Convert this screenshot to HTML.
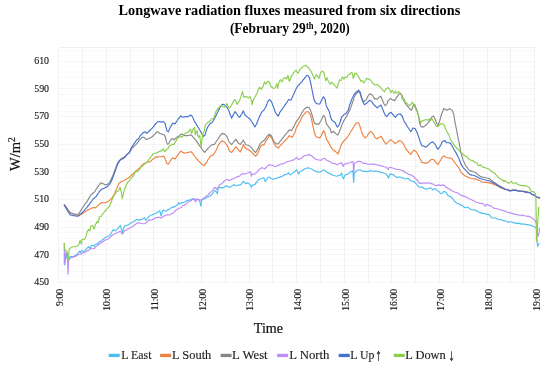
<!DOCTYPE html>
<html><head><meta charset="utf-8"><title>Longwave radiation fluxes</title><style>html,body{margin:0;padding:0;background:#fff;}svg{display:block;}</style></head><body><svg width="550" height="369" viewBox="0 0 550 369">
<rect width="550" height="369" fill="#ffffff"/>
<defs><filter id="soft" x="-5%" y="-5%" width="110%" height="110%"><feGaussianBlur stdDeviation="0.3"/></filter></defs>
<g shape-rendering="crispEdges"><line x1="58.70" y1="282.50" x2="534.70" y2="282.50" stroke="#f3f3f3" stroke-width="0.8"/><line x1="58.70" y1="276.97" x2="534.70" y2="276.97" stroke="#f7f7f7" stroke-width="0.8"/><line x1="58.70" y1="271.44" x2="534.70" y2="271.44" stroke="#f7f7f7" stroke-width="0.8"/><line x1="58.70" y1="265.91" x2="534.70" y2="265.91" stroke="#f7f7f7" stroke-width="0.8"/><line x1="58.70" y1="260.38" x2="534.70" y2="260.38" stroke="#f7f7f7" stroke-width="0.8"/><line x1="58.70" y1="254.85" x2="534.70" y2="254.85" stroke="#f3f3f3" stroke-width="0.8"/><line x1="58.70" y1="249.32" x2="534.70" y2="249.32" stroke="#f7f7f7" stroke-width="0.8"/><line x1="58.70" y1="243.79" x2="534.70" y2="243.79" stroke="#f7f7f7" stroke-width="0.8"/><line x1="58.70" y1="238.26" x2="534.70" y2="238.26" stroke="#f7f7f7" stroke-width="0.8"/><line x1="58.70" y1="232.74" x2="534.70" y2="232.74" stroke="#f7f7f7" stroke-width="0.8"/><line x1="58.70" y1="227.21" x2="534.70" y2="227.21" stroke="#f3f3f3" stroke-width="0.8"/><line x1="58.70" y1="221.68" x2="534.70" y2="221.68" stroke="#f7f7f7" stroke-width="0.8"/><line x1="58.70" y1="216.15" x2="534.70" y2="216.15" stroke="#f7f7f7" stroke-width="0.8"/><line x1="58.70" y1="210.62" x2="534.70" y2="210.62" stroke="#f7f7f7" stroke-width="0.8"/><line x1="58.70" y1="205.09" x2="534.70" y2="205.09" stroke="#f7f7f7" stroke-width="0.8"/><line x1="58.70" y1="199.56" x2="534.70" y2="199.56" stroke="#f3f3f3" stroke-width="0.8"/><line x1="58.70" y1="194.03" x2="534.70" y2="194.03" stroke="#f7f7f7" stroke-width="0.8"/><line x1="58.70" y1="188.50" x2="534.70" y2="188.50" stroke="#f7f7f7" stroke-width="0.8"/><line x1="58.70" y1="182.97" x2="534.70" y2="182.97" stroke="#f7f7f7" stroke-width="0.8"/><line x1="58.70" y1="177.44" x2="534.70" y2="177.44" stroke="#f7f7f7" stroke-width="0.8"/><line x1="58.70" y1="171.91" x2="534.70" y2="171.91" stroke="#f3f3f3" stroke-width="0.8"/><line x1="58.70" y1="166.38" x2="534.70" y2="166.38" stroke="#f7f7f7" stroke-width="0.8"/><line x1="58.70" y1="160.85" x2="534.70" y2="160.85" stroke="#f7f7f7" stroke-width="0.8"/><line x1="58.70" y1="155.32" x2="534.70" y2="155.32" stroke="#f7f7f7" stroke-width="0.8"/><line x1="58.70" y1="149.79" x2="534.70" y2="149.79" stroke="#f7f7f7" stroke-width="0.8"/><line x1="58.70" y1="144.26" x2="534.70" y2="144.26" stroke="#f3f3f3" stroke-width="0.8"/><line x1="58.70" y1="138.74" x2="534.70" y2="138.74" stroke="#f7f7f7" stroke-width="0.8"/><line x1="58.70" y1="133.21" x2="534.70" y2="133.21" stroke="#f7f7f7" stroke-width="0.8"/><line x1="58.70" y1="127.68" x2="534.70" y2="127.68" stroke="#f7f7f7" stroke-width="0.8"/><line x1="58.70" y1="122.15" x2="534.70" y2="122.15" stroke="#f7f7f7" stroke-width="0.8"/><line x1="58.70" y1="116.62" x2="534.70" y2="116.62" stroke="#f3f3f3" stroke-width="0.8"/><line x1="58.70" y1="111.09" x2="534.70" y2="111.09" stroke="#f7f7f7" stroke-width="0.8"/><line x1="58.70" y1="105.56" x2="534.70" y2="105.56" stroke="#f7f7f7" stroke-width="0.8"/><line x1="58.70" y1="100.03" x2="534.70" y2="100.03" stroke="#f7f7f7" stroke-width="0.8"/><line x1="58.70" y1="94.50" x2="534.70" y2="94.50" stroke="#f7f7f7" stroke-width="0.8"/><line x1="58.70" y1="88.97" x2="534.70" y2="88.97" stroke="#f3f3f3" stroke-width="0.8"/><line x1="58.70" y1="83.44" x2="534.70" y2="83.44" stroke="#f7f7f7" stroke-width="0.8"/><line x1="58.70" y1="77.91" x2="534.70" y2="77.91" stroke="#f7f7f7" stroke-width="0.8"/><line x1="58.70" y1="72.38" x2="534.70" y2="72.38" stroke="#f7f7f7" stroke-width="0.8"/><line x1="58.70" y1="66.85" x2="534.70" y2="66.85" stroke="#f7f7f7" stroke-width="0.8"/><line x1="58.70" y1="61.32" x2="534.70" y2="61.32" stroke="#f3f3f3" stroke-width="0.8"/><line x1="58.70" y1="55.79" x2="534.70" y2="55.79" stroke="#f7f7f7" stroke-width="0.8"/><line x1="58.70" y1="50.26" x2="534.70" y2="50.26" stroke="#f7f7f7" stroke-width="0.8"/><line x1="58.70" y1="47.50" x2="534.70" y2="47.50" stroke="#ececec" stroke-width="0.8"/><line x1="58.70" y1="47.50" x2="58.70" y2="282.50" stroke="#efefef" stroke-width="0.8"/><line x1="82.50" y1="47.50" x2="82.50" y2="282.50" stroke="#efefef" stroke-width="0.8"/><line x1="106.30" y1="47.50" x2="106.30" y2="282.50" stroke="#efefef" stroke-width="0.8"/><line x1="130.10" y1="47.50" x2="130.10" y2="282.50" stroke="#efefef" stroke-width="0.8"/><line x1="153.90" y1="47.50" x2="153.90" y2="282.50" stroke="#efefef" stroke-width="0.8"/><line x1="177.70" y1="47.50" x2="177.70" y2="282.50" stroke="#efefef" stroke-width="0.8"/><line x1="201.50" y1="47.50" x2="201.50" y2="282.50" stroke="#efefef" stroke-width="0.8"/><line x1="225.30" y1="47.50" x2="225.30" y2="282.50" stroke="#efefef" stroke-width="0.8"/><line x1="249.10" y1="47.50" x2="249.10" y2="282.50" stroke="#efefef" stroke-width="0.8"/><line x1="272.90" y1="47.50" x2="272.90" y2="282.50" stroke="#efefef" stroke-width="0.8"/><line x1="296.70" y1="47.50" x2="296.70" y2="282.50" stroke="#efefef" stroke-width="0.8"/><line x1="320.50" y1="47.50" x2="320.50" y2="282.50" stroke="#efefef" stroke-width="0.8"/><line x1="344.30" y1="47.50" x2="344.30" y2="282.50" stroke="#efefef" stroke-width="0.8"/><line x1="368.10" y1="47.50" x2="368.10" y2="282.50" stroke="#efefef" stroke-width="0.8"/><line x1="391.90" y1="47.50" x2="391.90" y2="282.50" stroke="#efefef" stroke-width="0.8"/><line x1="415.70" y1="47.50" x2="415.70" y2="282.50" stroke="#efefef" stroke-width="0.8"/><line x1="439.50" y1="47.50" x2="439.50" y2="282.50" stroke="#efefef" stroke-width="0.8"/><line x1="463.30" y1="47.50" x2="463.30" y2="282.50" stroke="#efefef" stroke-width="0.8"/><line x1="487.10" y1="47.50" x2="487.10" y2="282.50" stroke="#efefef" stroke-width="0.8"/><line x1="510.90" y1="47.50" x2="510.90" y2="282.50" stroke="#efefef" stroke-width="0.8"/><line x1="534.70" y1="47.50" x2="534.70" y2="282.50" stroke="#efefef" stroke-width="0.8"/></g>
<g filter="url(#soft)">
<polyline points="64.80,249.00 64.80,265.00 66.00,253.50 66.30,254.68 66.60,255.87 66.90,257.79 67.20,259.00 68.60,258.20 69.20,257.70 70.30,256.68 71.40,256.60 73.50,256.60 75.20,255.50 76.80,254.50 77.65,253.44 78.50,252.30 79.50,251.20 80.60,252.80 81.15,251.55 81.70,250.60 83.40,251.70 85.50,250.60 86.35,248.76 87.20,247.90 88.80,246.80 89.90,248.50 90.45,247.11 91.00,245.70 92.60,245.20 94.30,246.30 95.10,244.69 95.90,244.10 97.50,244.10 98.35,242.93 99.20,241.90 100.80,241.40 101.90,240.08 103.00,239.70 104.10,238.15 105.20,237.50 106.30,236.92 107.40,236.50 109.50,235.40 110.55,234.31 111.60,232.50 112.45,230.69 113.30,229.70 114.40,229.95 115.50,230.80 116.55,229.84 117.60,228.60 118.53,228.03 119.47,226.55 120.40,225.40 120.77,226.55 121.13,228.46 121.50,229.20 122.00,230.35 122.50,232.50 122.84,231.69 123.18,229.87 123.52,228.51 123.86,227.28 124.20,226.50 125.30,225.74 126.40,225.40 127.75,225.20 129.10,224.30 130.45,223.10 131.80,222.60 133.15,221.89 134.50,221.00 135.50,220.35 136.50,219.40 138.60,219.90 140.80,219.90 141.90,219.21 143.00,218.80 144.60,217.70 145.15,219.15 145.70,220.50 146.55,219.17 147.40,218.80 148.45,216.97 149.50,216.10 150.60,215.23 151.70,215.00 152.80,214.65 153.90,213.90 155.90,213.50 156.95,212.72 158.00,212.10 158.95,211.15 159.90,210.60 160.18,211.97 160.45,213.10 160.72,214.20 161.00,215.70 161.44,214.86 161.88,213.60 162.32,211.94 162.76,211.14 163.20,209.90 164.30,210.63 165.40,211.30 166.50,211.01 167.60,209.90 169.05,209.40 170.50,208.40 171.60,207.42 172.70,206.90 174.15,207.08 175.60,206.20 176.70,205.03 177.80,204.70 178.80,202.60 180.00,204.00 181.10,203.21 182.20,202.60 183.65,202.48 185.10,201.80 186.55,200.72 188.00,200.40 189.50,199.99 191.00,199.60 192.45,198.74 193.90,198.90 196.10,199.60 198.30,199.60 199.70,201.10 200.00,202.56 200.30,203.94 200.60,205.01 200.90,206.20 201.90,199.60 204.10,198.90 205.55,198.56 207.00,197.40 208.50,196.50 210.00,196.00 211.10,195.11 212.20,193.80 212.93,192.94 213.67,191.95 214.40,190.90 215.80,190.90 216.55,192.30 217.30,193.80 217.53,192.71 217.77,191.36 218.00,189.40 218.75,188.27 219.50,187.20 221.70,187.90 223.90,187.20 225.00,186.63 226.10,185.70 227.15,185.97 228.20,187.20 229.55,187.12 230.90,186.60 231.87,186.03 232.83,185.68 233.80,184.40 234.90,185.45 236.00,185.80 237.45,185.21 238.90,185.10 241.10,184.40 241.83,183.27 242.57,182.59 243.30,181.40 244.40,181.97 245.50,183.60 247.70,182.90 248.80,183.61 249.90,184.40 250.60,185.48 251.30,187.30 252.05,185.78 252.80,185.10 255.00,184.40 255.73,182.91 256.47,182.70 257.20,181.40 258.30,179.94 259.40,179.30 261.60,178.50 263.80,177.80 264.27,178.72 264.73,180.08 265.20,181.40 265.95,180.76 266.70,179.30 267.80,177.74 268.90,177.10 270.00,177.74 271.10,178.50 273.30,179.30 275.50,178.50 277.70,177.80 279.80,177.10 282.00,176.30 283.10,175.65 284.20,174.90 286.40,174.10 287.50,173.82 288.60,172.70 289.35,174.15 290.10,174.90 291.20,174.55 292.30,173.40 293.40,172.41 294.50,171.90 295.60,170.71 296.70,169.70 297.25,170.64 297.80,172.32 298.35,173.50 298.90,174.10 299.60,172.27 300.30,171.20 302.50,170.50 303.63,169.48 304.77,168.87 305.90,168.50 308.00,167.80 310.20,168.50 311.70,168.96 313.20,170.00 314.65,170.68 316.10,171.40 317.55,171.90 319.00,172.20 321.20,171.40 322.30,170.44 323.40,170.00 324.50,170.15 325.60,171.40 326.70,172.06 327.80,172.90 330.00,173.60 331.10,174.21 332.20,175.10 333.65,175.52 335.10,175.80 336.55,176.30 338.00,175.80 340.20,175.10 340.95,174.21 341.70,172.90 342.03,174.38 342.37,175.96 342.70,177.30 343.40,178.80 344.00,177.49 344.60,175.80 345.70,174.61 346.80,174.40 347.90,174.09 349.00,172.90 350.10,172.46 351.20,171.40 352.90,170.70 353.60,182.40 354.40,172.90 355.35,172.21 356.30,170.70 358.50,170.00 360.70,170.00 361.80,171.03 362.90,171.40 364.35,171.28 365.80,171.40 367.25,171.29 368.70,171.40 370.20,170.61 371.70,170.70 373.15,171.20 374.60,171.40 376.25,171.07 377.90,171.70 379.40,171.57 380.90,172.40 382.35,172.48 383.80,173.20 385.25,173.53 386.70,174.60 387.30,175.66 387.90,176.57 388.50,178.30 389.13,176.28 389.77,174.98 390.40,173.90 392.60,174.60 393.65,174.91 394.70,176.10 395.80,176.70 396.90,177.60 399.10,176.80 401.30,177.60 403.50,178.30 405.70,179.00 407.90,178.30 409.00,178.88 410.10,180.50 412.30,181.20 414.50,181.90 415.60,183.41 416.70,184.10 417.40,185.33 418.10,186.30 419.60,187.10 421.80,187.10 422.90,187.41 424.00,188.50 426.20,189.30 428.40,188.50 430.60,187.80 431.70,188.63 432.80,190.00 433.90,189.08 435.00,188.50 436.10,189.45 437.20,190.70 438.30,191.04 439.40,192.20 440.45,193.28 441.50,193.60 442.60,193.04 443.70,191.40 445.90,192.20 446.63,193.36 447.37,194.58 448.10,195.80 450.20,196.60 451.20,196.99 452.20,198.30 452.93,198.83 453.67,200.06 454.40,201.20 455.37,201.67 456.33,203.03 457.30,203.40 458.75,203.78 460.20,204.90 461.70,205.08 463.20,206.30 464.65,207.55 466.10,207.80 467.60,207.10 468.57,207.86 469.53,208.18 470.50,209.30 471.95,209.70 473.40,210.00 474.85,209.83 476.30,210.70 477.80,211.48 479.30,212.20 480.75,213.08 482.20,212.90 483.65,213.65 485.10,213.60 486.55,214.22 488.00,214.40 489.10,214.84 490.20,215.80 490.95,216.75 491.70,218.00 493.90,218.00 495.35,218.03 496.80,218.80 498.25,219.45 499.70,219.50 501.20,219.89 502.70,220.20 504.15,220.91 505.60,221.00 507.05,221.51 508.50,222.40 510.00,221.70 511.45,221.75 512.90,222.40 514.35,223.09 515.80,223.10 517.25,223.63 518.70,223.10 520.20,223.89 521.70,223.90 523.15,224.24 524.60,223.90 526.05,224.60 527.50,224.60 528.75,225.06 530.00,225.00 531.40,225.60 533.50,226.50 535.50,227.30 536.05,228.10 536.60,229.50 537.20,243.00 537.45,244.72 537.70,246.40 538.60,244.30 539.10,243.30" fill="none" stroke="#4DBEF2" stroke-width="1.15" stroke-linejoin="round" stroke-linecap="round"/>
<polyline points="64.30,205.30 65.06,206.32 65.82,207.27 66.58,208.35 67.34,209.53 68.10,210.70 69.20,211.54 70.30,212.64 71.40,213.50 73.00,214.03 74.60,214.20 76.25,214.88 77.90,215.60 80.10,214.90 81.20,214.41 82.30,213.76 83.40,212.90 84.47,212.35 85.53,211.38 86.60,210.70 87.70,210.05 88.80,209.52 89.90,209.10 91.00,208.45 92.10,207.92 93.20,207.50 95.00,207.90 96.10,207.15 97.20,206.30 98.30,205.36 99.40,204.10 100.45,203.44 101.50,202.50 103.70,203.00 105.90,202.50 107.00,201.94 108.10,201.40 109.20,200.61 110.30,199.70 111.40,198.47 112.50,197.00 113.30,195.73 114.10,194.80 114.63,193.43 115.17,192.10 115.70,190.50 116.25,189.51 116.80,188.40 117.35,187.19 117.90,186.10 118.45,184.57 119.00,183.30 120.10,182.57 121.20,181.60 122.55,180.98 123.90,180.50 125.25,179.82 126.60,178.90 127.70,178.54 128.80,177.80 129.90,176.66 131.00,175.60 132.10,174.51 133.20,173.50 134.30,172.58 135.40,171.30 136.45,170.54 137.50,169.60 138.60,168.67 139.70,168.00 140.80,166.50 141.90,165.30 143.00,164.31 144.10,163.60 145.20,163.21 146.30,162.50 148.50,162.00 150.00,161.90 150.97,161.06 151.93,159.83 152.90,159.00 153.90,158.40 154.90,157.73 155.90,156.80 157.35,156.86 158.80,156.80 160.25,156.74 161.70,156.80 163.90,156.10 164.40,157.32 164.90,158.35 165.40,159.70 165.87,160.74 166.33,162.36 166.80,163.40 168.30,164.10 169.03,162.96 169.77,161.71 170.50,160.50 171.23,159.71 171.97,158.54 172.70,157.60 173.80,158.45 174.90,159.00 175.63,158.16 176.37,156.95 177.10,156.10 177.83,155.03 178.57,154.08 179.30,153.20 180.00,152.00 180.70,151.00 181.80,151.73 182.90,152.40 185.10,153.20 186.55,152.70 188.00,152.40 189.50,152.02 191.00,151.70 192.40,153.20 193.13,154.02 193.87,155.30 194.60,156.10 195.33,157.01 196.07,158.02 196.80,159.00 197.77,160.00 198.73,161.10 199.70,161.90 200.80,162.97 201.90,164.10 203.00,165.02 204.10,165.60 204.83,164.63 205.57,163.68 206.30,162.70 207.03,161.48 207.77,160.04 208.50,159.00 209.23,158.01 209.97,156.94 210.70,156.10 212.15,155.15 213.60,154.60 214.33,153.52 215.07,152.07 215.80,151.00 216.28,149.89 216.77,148.89 217.25,147.72 217.73,146.53 218.22,145.51 218.70,144.40 219.70,143.19 220.70,142.05 221.70,140.70 223.15,141.29 224.60,142.20 225.57,143.46 226.53,144.57 227.50,145.90 227.97,147.11 228.45,148.61 228.93,149.80 229.40,151.10 230.50,151.82 231.60,152.50 232.33,151.64 233.07,150.73 233.80,149.60 234.53,148.61 235.27,147.71 236.00,146.70 236.73,147.67 237.47,148.64 238.20,149.60 239.30,150.78 240.40,151.80 241.10,150.33 241.80,148.90 242.30,147.45 242.80,145.96 243.30,144.50 244.03,145.88 244.77,146.98 245.50,148.10 246.95,149.00 248.40,149.60 249.37,150.51 250.33,150.97 251.30,151.80 252.40,152.92 253.50,154.00 254.60,155.28 255.70,156.20 256.43,155.37 257.17,154.12 257.90,153.30 258.34,151.97 258.78,150.92 259.22,149.59 259.66,148.48 260.10,147.40 260.83,146.26 261.57,145.53 262.30,144.50 263.80,145.20 264.35,144.21 264.90,143.16 265.45,141.76 266.00,140.80 267.05,139.44 268.10,137.90 268.85,136.51 269.60,135.00 270.33,135.82 271.07,137.09 271.80,137.90 272.24,139.27 272.68,140.15 273.12,141.62 273.56,142.58 274.00,143.80 274.73,144.76 275.47,145.93 276.20,146.70 277.30,147.53 278.40,148.10 279.13,147.00 279.87,146.14 280.60,145.20 281.57,144.24 282.53,143.20 283.50,142.30 284.47,141.21 285.43,140.29 286.40,139.40 287.40,138.26 288.40,136.74 289.40,135.70 290.85,136.47 292.30,137.20 293.03,135.94 293.77,134.54 294.50,133.50 294.94,132.11 295.38,130.91 295.82,129.54 296.26,128.05 296.70,126.90 297.43,125.89 298.17,124.62 298.90,123.30 300.00,121.20 300.55,120.29 301.10,118.84 301.65,117.81 302.20,116.80 302.93,115.65 303.67,114.98 304.40,113.90 305.50,112.71 306.60,111.70 308.00,111.70 309.50,113.20 310.00,114.25 310.50,115.57 311.00,116.80 311.28,118.28 311.56,119.57 311.84,120.66 312.12,121.94 312.40,123.40 312.65,124.78 312.90,125.86 313.15,127.13 313.40,128.10 313.65,129.31 313.90,130.70 314.27,132.05 314.65,133.22 315.02,134.35 315.40,135.80 316.50,136.73 317.60,137.30 319.70,138.00 320.43,136.85 321.17,135.72 321.90,134.40 322.40,133.00 322.90,132.08 323.40,130.70 324.15,131.63 324.90,132.90 325.18,134.23 325.46,135.24 325.74,136.38 326.02,137.64 326.30,138.80 327.03,140.17 327.77,141.11 328.50,142.40 329.05,143.35 329.60,144.61 330.15,145.60 330.70,146.80 331.43,147.61 332.17,148.60 332.90,149.70 334.00,150.27 335.10,151.20 336.20,152.18 337.30,153.40 338.00,154.00 338.50,152.49 339.00,151.06 339.50,149.70 339.94,148.64 340.38,147.30 340.82,146.22 341.26,144.93 341.70,143.90 342.43,142.87 343.17,141.77 343.90,141.00 345.00,139.80 346.10,138.80 346.83,137.61 347.57,136.89 348.30,135.80 349.03,134.62 349.77,133.28 350.50,132.20 351.23,130.96 351.97,129.91 352.70,128.50 353.40,127.14 354.10,126.23 354.80,124.90 355.90,123.77 357.00,122.70 358.50,122.70 359.00,123.90 359.50,125.23 360.00,126.30 360.35,127.53 360.70,128.85 361.05,130.20 361.40,131.40 361.90,132.83 362.40,133.80 362.90,135.10 363.63,136.20 364.37,137.12 365.10,138.00 366.20,136.95 367.30,135.80 368.03,134.56 368.77,133.34 369.50,132.20 370.90,131.40 372.40,132.90 373.15,133.82 373.90,135.10 374.45,136.20 375.00,137.60 376.10,138.13 377.20,139.00 378.70,137.60 379.80,136.95 380.90,136.10 381.60,137.10 382.30,138.30 383.05,139.62 383.80,141.20 384.53,142.00 385.27,143.27 386.00,144.10 387.10,143.15 388.20,141.90 389.30,140.87 390.40,139.70 391.50,140.36 392.60,141.20 393.65,142.20 394.70,143.40 396.90,142.70 398.00,141.52 399.10,140.50 401.30,141.20 402.03,142.15 402.77,143.00 403.50,144.10 404.25,145.58 405.00,147.10 405.73,148.21 406.47,149.68 407.20,150.70 408.30,151.99 409.40,152.90 410.80,154.40 411.55,153.32 412.30,152.20 413.05,151.00 413.80,150.00 414.90,150.89 416.00,151.40 416.70,152.56 417.40,153.81 418.10,155.10 418.85,156.35 419.60,158.00 420.15,159.05 420.70,160.19 421.25,161.30 421.80,162.40 423.25,162.63 424.70,163.10 426.90,163.10 428.00,162.40 429.10,161.70 430.20,160.40 431.30,159.50 433.50,159.50 434.23,160.37 434.97,161.27 435.70,162.40 436.80,163.46 437.90,164.60 438.63,163.22 439.37,162.01 440.10,161.00 440.83,159.69 441.57,158.43 442.30,157.30 443.70,155.80 444.80,156.58 445.90,157.30 448.10,158.00 450.10,157.80 451.15,158.41 452.20,159.00 452.93,160.07 453.67,161.00 454.40,161.90 455.13,162.99 455.87,164.05 456.60,164.90 457.33,165.82 458.07,166.76 458.80,167.80 459.35,169.09 459.90,169.86 460.45,171.19 461.00,172.20 461.97,173.22 462.93,173.95 463.90,175.10 465.35,175.98 466.80,176.60 468.25,177.46 469.70,178.00 471.20,178.45 472.70,178.80 474.15,178.89 475.60,178.80 477.05,179.62 478.50,180.20 479.95,180.81 481.40,181.70 482.90,182.06 484.40,182.40 485.85,182.40 487.30,182.40 488.75,182.88 490.20,183.10 491.65,183.62 493.10,183.90 494.60,184.73 496.10,185.30 497.55,186.08 499.00,186.80 500.45,187.71 501.90,188.30 503.35,188.72 504.80,189.00 506.30,189.43 507.80,189.70 509.25,189.99 510.70,190.50 512.15,190.31 513.60,190.50 515.05,190.35 516.50,190.50 518.00,190.79 519.50,191.20 520.95,191.04 522.40,191.20 523.85,191.68 525.30,191.90 526.70,192.12 528.10,192.35 529.50,192.50 531.30,193.90 533.10,194.80 535.00,195.70 536.80,197.10 538.70,197.60 539.60,198.00" fill="none" stroke="#EE8240" stroke-width="1.15" stroke-linejoin="round" stroke-linecap="round"/>
<polyline points="64.30,204.70 65.20,205.85 66.10,206.97 67.00,208.00 67.73,209.26 68.47,210.33 69.20,211.80 70.30,212.49 71.40,213.03 72.50,213.50 73.77,213.83 75.03,214.18 76.30,214.50 77.65,214.06 79.00,213.50 79.67,212.23 80.35,211.39 81.03,210.10 81.70,209.10 82.40,207.83 83.10,206.81 83.80,205.89 84.50,204.70 85.30,203.51 86.10,202.65 86.90,201.67 87.70,200.40 88.43,199.10 89.17,197.75 89.90,196.50 90.80,195.42 91.70,194.44 92.60,193.30 93.70,192.56 94.80,191.60 95.45,190.50 96.10,189.30 96.83,188.26 97.57,186.93 98.30,186.00 99.20,184.76 100.10,183.70 101.00,182.70 102.10,183.35 103.20,183.80 104.30,184.27 105.40,184.90 107.50,184.40 108.60,183.33 109.70,182.20 110.27,180.90 110.83,179.82 111.40,178.90 111.93,177.54 112.47,176.44 113.00,175.10 113.53,173.71 114.07,172.24 114.60,170.70 115.17,169.18 115.73,167.84 116.30,166.40 116.83,165.09 117.37,163.79 117.90,162.50 119.00,161.00 120.10,159.80 121.70,158.20 123.40,157.60 124.45,156.96 125.50,156.00 126.60,154.78 127.70,153.80 128.80,152.89 129.90,151.60 130.60,150.71 131.30,149.27 132.00,148.40 132.90,147.45 133.80,146.66 134.70,145.60 135.63,144.89 136.57,143.78 137.50,142.90 138.27,141.71 139.03,140.58 139.80,139.60 140.95,138.63 142.10,137.30 143.90,137.30 144.85,138.13 145.80,139.20 146.70,139.60 148.50,138.70 149.90,138.03 151.30,137.30 153.10,136.00 154.05,134.91 155.00,134.10 155.90,132.96 156.80,131.80 158.20,131.80 159.35,132.93 160.50,133.70 161.65,134.00 162.80,134.60 164.70,135.00 165.15,136.78 165.60,138.30 165.90,139.50 166.20,140.85 166.50,141.90 166.95,143.13 167.40,144.20 168.80,143.80 169.25,142.49 169.70,141.40 170.43,140.59 171.17,139.46 171.90,138.50 173.00,139.06 174.10,140.00 175.20,138.70 176.30,137.80 177.30,137.06 178.30,136.31 179.30,135.60 180.35,134.77 181.40,134.10 182.90,134.71 184.40,135.60 185.85,135.54 187.30,135.60 188.53,135.29 189.77,135.27 191.00,134.90 191.97,135.67 192.93,136.93 193.90,137.80 194.87,139.14 195.83,140.05 196.80,141.40 197.53,142.67 198.25,143.69 198.97,144.86 199.70,145.80 200.45,146.82 201.20,147.95 201.95,149.06 202.70,150.20 203.75,151.50 204.80,152.40 205.53,151.47 206.27,150.41 207.00,149.50 208.10,148.37 209.20,147.30 210.30,146.11 211.40,145.10 212.90,144.57 214.40,144.40 215.12,143.14 215.85,142.33 216.58,141.01 217.30,140.00 218.03,139.07 218.75,137.70 219.47,136.61 220.20,135.60 221.30,134.50 222.40,133.40 224.60,134.10 225.70,135.08 226.80,136.30 227.32,137.45 227.84,138.88 228.36,140.05 228.88,141.22 229.40,142.30 230.50,143.45 231.60,144.50 232.33,143.70 233.07,142.74 233.80,141.60 234.90,140.52 236.00,139.40 236.73,140.69 237.47,141.62 238.20,143.00 239.30,143.84 240.40,144.50 241.10,143.38 241.80,142.30 242.55,141.30 243.30,140.10 243.85,141.26 244.40,142.21 244.95,143.22 245.50,144.50 246.95,145.02 248.40,145.20 249.37,145.78 250.33,146.66 251.30,147.40 252.03,148.30 252.77,149.25 253.50,150.30 254.60,151.50 255.70,152.50 256.43,151.49 257.17,150.00 257.90,148.90 258.45,147.69 259.00,146.27 259.55,145.10 260.10,143.80 261.20,142.66 262.30,141.60 263.40,140.72 264.50,140.10 265.23,138.86 265.95,137.78 266.67,136.96 267.40,135.70 268.50,135.00 269.60,134.30 270.70,135.24 271.80,136.40 272.35,137.86 272.90,139.20 273.45,140.28 274.00,141.60 275.10,142.56 276.20,143.80 278.40,143.80 279.13,142.68 279.87,141.64 280.60,140.80 281.57,139.54 282.53,138.24 283.50,137.20 284.47,135.86 285.43,134.64 286.40,133.50 287.40,132.33 288.40,131.25 289.40,129.90 291.50,130.60 292.23,129.47 292.97,128.10 293.70,126.90 294.30,125.71 294.90,124.59 295.50,123.37 296.10,122.20 296.70,121.10 297.43,119.96 298.17,119.08 298.90,118.20 300.00,116.10 300.73,115.05 301.47,113.48 302.20,112.40 302.93,111.20 303.67,110.05 304.40,108.80 305.50,108.20 306.60,107.30 308.80,107.30 309.50,108.29 310.20,109.50 310.70,110.88 311.20,112.33 311.70,113.90 312.07,115.13 312.45,116.43 312.82,117.91 313.20,119.00 313.67,120.61 314.13,122.08 314.60,123.40 316.80,124.10 319.00,124.10 319.73,122.71 320.47,121.51 321.20,120.50 321.75,119.31 322.30,118.11 322.85,116.66 323.40,115.40 324.90,116.80 325.18,118.15 325.46,119.24 325.74,120.72 326.02,122.25 326.30,123.40 327.05,124.63 327.80,125.60 328.53,126.71 329.27,127.72 330.00,128.50 330.47,129.87 330.93,131.28 331.40,132.90 332.50,132.01 333.60,131.40 334.70,132.51 335.80,133.60 336.75,134.42 337.70,135.10 338.30,134.04 338.90,132.72 339.50,131.40 339.94,130.30 340.38,129.19 340.82,127.90 341.26,126.78 341.70,125.60 342.25,124.14 342.80,123.16 343.35,121.67 343.90,120.50 344.62,119.57 345.35,118.36 346.07,117.12 346.80,116.10 347.38,114.77 347.96,113.64 348.54,112.61 349.12,111.46 349.70,110.20 350.14,108.88 350.58,107.71 351.02,106.73 351.46,105.59 351.90,104.40 352.40,102.89 352.90,101.36 353.40,100.00 353.75,98.74 354.10,97.40 354.83,96.00 355.57,94.92 356.30,93.80 357.40,92.68 358.50,91.60 360.00,93.00 360.47,94.65 360.93,95.99 361.40,97.40 361.95,98.65 362.50,99.59 363.05,100.59 363.60,101.80 364.70,100.95 365.80,100.30 366.35,99.41 366.90,98.23 367.45,97.00 368.00,96.00 369.10,94.71 370.20,93.80 371.30,94.50 372.40,95.20 373.13,96.50 373.87,97.63 374.60,98.90 375.90,98.90 377.20,99.10 378.30,98.07 379.40,96.90 380.90,96.20 381.37,97.60 381.83,98.56 382.30,99.90 382.80,100.91 383.30,102.24 383.80,103.50 384.50,104.57 385.20,105.70 386.70,104.30 387.20,103.14 387.70,101.71 388.20,100.60 389.30,99.62 390.40,98.40 391.50,99.25 392.60,99.90 394.70,100.60 395.43,99.37 396.17,98.02 396.90,96.90 397.63,96.12 398.37,94.89 399.10,94.00 400.60,93.30 401.35,94.53 402.10,95.50 402.57,96.86 403.03,98.32 403.50,99.90 404.25,101.45 405.00,102.80 405.70,103.82 406.40,105.00 407.50,106.28 408.60,107.20 409.35,108.30 410.10,109.40 411.60,110.10 412.07,108.74 412.53,107.52 413.00,106.40 413.75,105.32 414.50,104.30 415.00,105.57 415.50,106.88 416.00,107.90 416.47,108.99 416.93,110.32 417.40,111.60 417.77,112.94 418.15,114.69 418.52,115.81 418.90,117.40 419.60,123.30 420.10,124.32 420.60,125.52 421.10,126.90 423.30,126.90 424.40,126.16 425.50,125.50 426.60,124.56 427.70,123.30 428.40,122.45 429.10,121.39 429.80,120.30 430.53,119.30 431.27,118.07 432.00,116.70 433.50,116.00 434.25,117.38 435.00,118.90 435.47,119.97 435.93,121.47 436.40,122.50 437.15,124.10 437.90,125.50 438.40,124.08 438.90,123.10 439.40,121.80 439.75,120.53 440.10,119.32 440.45,118.08 440.80,116.80 441.15,115.52 441.50,114.50 441.94,113.23 442.38,112.08 442.82,111.14 443.26,109.63 443.70,108.60 445.20,109.40 447.40,110.10 448.50,109.54 449.60,108.60 450.90,109.38 452.20,110.40 452.70,111.54 453.20,112.93 453.70,114.00 455.10,122.80 455.35,124.15 455.60,125.21 455.85,126.27 456.10,127.66 456.35,128.83 456.60,130.10 456.83,131.48 457.07,132.41 457.30,133.70 457.53,135.13 457.77,136.00 458.00,137.40 458.25,138.58 458.50,139.96 458.75,141.16 459.00,142.08 459.25,143.30 459.50,144.70 461.00,153.20 461.37,154.24 461.73,155.80 462.10,156.75 462.47,158.17 462.83,159.44 463.20,160.50 463.78,161.60 464.36,162.73 464.94,164.16 465.52,165.19 466.10,166.30 467.07,167.44 468.03,168.85 469.00,170.00 470.45,170.63 471.90,171.40 473.40,171.71 474.90,172.20 475.87,172.73 476.83,173.77 477.80,174.40 478.77,175.30 479.73,175.92 480.70,176.60 482.15,177.13 483.60,177.30 485.10,177.46 486.60,178.00 488.05,178.29 489.50,178.80 490.47,179.52 491.43,180.45 492.40,181.00 493.85,182.23 495.30,183.10 496.30,183.79 497.30,184.47 498.30,185.30 499.75,186.02 501.20,186.80 502.65,187.55 504.10,188.30 505.55,189.17 507.00,189.70 508.50,189.97 510.00,190.50 511.45,190.22 512.90,189.70 514.35,189.80 515.80,189.70 517.25,190.23 518.70,190.50 520.20,190.96 521.70,191.20 523.15,191.24 524.60,191.20 526.05,191.48 527.50,191.90 528.75,192.23 530.00,192.70 531.30,193.90 533.10,194.80 535.00,195.70 536.80,197.10 538.70,197.60 539.60,198.00" fill="none" stroke="#888888" stroke-width="1.15" stroke-linejoin="round" stroke-linecap="round"/>
<polyline points="64.30,243.40 64.30,264.00 65.40,254.00 66.50,253.00 67.00,254.35 67.50,256.00 68.00,274.30 68.60,260.00 69.45,259.46 70.30,258.30 71.90,257.29 73.50,257.20 74.60,256.30 75.70,256.34 76.80,255.50 78.27,254.69 79.73,253.95 81.20,253.90 82.85,252.84 84.50,252.80 85.57,252.12 86.63,251.14 87.70,250.60 88.80,250.23 89.90,249.22 91.00,247.90 92.65,248.74 94.30,248.50 95.37,247.31 96.43,246.18 97.50,245.70 98.60,244.36 99.70,243.90 100.80,243.00 101.90,242.50 103.00,241.47 104.10,240.80 105.20,239.97 106.30,239.64 107.40,239.20 108.70,238.43 110.00,237.40 111.10,236.49 112.20,235.20 113.30,234.92 114.40,234.10 116.50,233.00 117.60,232.83 118.70,231.90 120.90,231.40 121.45,232.93 122.00,234.10 123.10,233.00 124.20,231.23 125.30,230.30 126.37,230.11 127.43,228.94 128.50,228.60 129.60,228.14 130.70,227.39 131.80,227.00 132.90,226.53 134.00,225.20 135.10,224.80 136.20,223.79 137.30,223.05 138.40,222.60 140.50,223.20 142.70,223.70 144.90,223.70 146.00,222.52 147.10,222.10 147.90,221.42 148.70,219.90 150.00,220.10 151.45,219.84 152.90,219.40 154.40,218.46 155.90,217.90 157.35,217.44 158.80,217.20 161.00,217.90 162.10,217.69 163.20,216.40 164.65,215.71 166.10,215.00 167.55,214.70 169.00,215.00 170.45,214.59 171.90,213.50 172.90,212.94 173.90,212.57 174.90,211.30 176.10,209.90 177.30,209.34 178.50,208.40 180.70,207.70 181.80,206.95 182.90,205.50 184.35,205.12 185.80,204.00 186.80,203.72 187.80,202.03 188.80,201.80 190.25,200.87 191.70,200.40 192.80,199.23 193.90,198.90 194.60,200.01 195.30,201.80 196.05,200.87 196.80,198.90 199.00,199.60 201.20,200.40 202.70,198.90 203.67,198.26 204.63,197.91 205.60,196.70 206.57,195.83 207.53,195.64 208.50,194.50 209.47,193.48 210.43,192.30 211.40,191.60 212.13,190.94 212.87,190.16 213.60,188.70 215.10,187.20 215.80,187.87 216.50,189.40 217.25,188.41 218.00,187.20 218.75,186.23 219.50,185.00 220.60,184.14 221.70,183.90 222.67,182.79 223.63,181.57 224.60,181.00 225.70,179.92 226.80,179.50 228.10,179.83 229.40,180.70 230.50,180.11 231.60,179.30 233.80,178.50 235.25,177.97 236.70,177.10 238.15,176.37 239.60,176.30 240.60,174.80 241.60,174.18 242.60,173.40 244.05,173.95 245.50,174.10 246.95,173.05 248.40,172.70 250.60,171.90 250.83,173.16 251.07,174.51 251.30,176.30 252.10,174.10 254.30,174.10 255.27,173.69 256.23,172.69 257.20,171.90 258.17,170.45 259.13,169.53 260.10,169.00 261.20,168.18 262.30,167.60 263.40,168.36 264.50,169.00 265.60,168.05 266.70,166.80 267.67,165.62 268.63,164.96 269.60,164.60 271.05,165.21 272.50,165.40 274.00,166.00 275.50,166.80 276.95,165.86 278.40,165.40 279.85,164.44 281.30,163.90 282.75,164.05 284.20,163.20 285.70,162.24 287.20,161.70 288.65,161.42 290.10,161.00 291.55,160.44 293.00,160.20 294.23,159.14 295.47,158.67 296.70,157.30 297.80,158.95 298.90,159.50 300.35,158.60 301.80,158.00 302.90,156.80 304.40,155.77 305.90,155.40 307.35,155.25 308.80,154.60 311.00,155.40 312.10,156.17 313.20,157.60 314.30,157.76 315.40,159.00 316.85,159.79 318.30,159.70 320.50,160.50 321.60,159.67 322.70,159.00 324.90,158.30 326.00,159.75 327.10,160.50 329.30,161.20 330.35,161.85 331.40,162.70 332.90,163.47 334.40,163.40 335.85,164.11 337.30,164.90 338.40,163.78 339.50,163.40 341.70,162.70 342.40,164.90 343.40,166.30 344.00,164.67 344.60,164.10 346.80,163.40 348.25,163.11 349.70,162.70 351.90,161.90 353.20,161.90 353.60,173.60 354.40,163.40 355.70,162.80 357.00,161.90 359.20,161.20 361.40,161.90 362.90,163.10 364.40,163.40 365.85,163.30 367.30,164.10 368.75,164.23 370.20,164.10 371.65,163.96 373.10,164.10 375.00,164.40 376.45,164.75 377.90,165.10 379.40,165.11 380.90,165.90 382.35,166.01 383.80,166.60 385.25,166.97 386.70,167.30 387.45,168.87 388.20,169.50 388.90,167.97 389.60,167.30 391.10,167.64 392.60,168.00 394.05,168.74 395.50,168.80 396.95,169.66 398.40,169.50 399.85,169.52 401.30,170.20 402.80,170.54 404.30,171.70 405.75,172.94 407.20,173.20 408.65,174.42 410.10,174.60 411.55,175.33 413.00,176.10 414.00,176.58 415.00,178.50 416.00,179.00 417.05,179.98 418.10,181.20 418.85,182.74 419.60,183.40 421.80,183.40 424.00,182.70 426.20,183.40 428.40,182.70 430.60,183.40 432.05,183.88 433.50,184.10 434.95,185.21 436.40,185.60 438.60,184.90 440.80,185.60 443.00,184.90 444.10,185.23 445.20,186.30 446.17,187.35 447.13,187.46 448.10,188.50 449.30,189.04 450.50,189.80 451.70,190.78 452.90,191.00 454.40,192.06 455.90,192.40 457.35,192.80 458.80,193.90 459.90,194.34 461.00,195.40 462.45,195.64 463.90,196.10 465.35,196.87 466.80,197.60 468.25,198.17 469.70,199.00 471.20,199.34 472.70,200.50 474.15,200.92 475.60,201.90 477.05,202.55 478.50,202.70 479.95,203.49 481.40,203.40 482.90,203.65 484.40,204.90 485.10,206.30 485.85,205.27 486.60,204.10 488.05,205.13 489.50,205.60 490.95,205.84 492.40,207.10 493.85,208.17 495.30,208.50 496.80,208.48 498.30,209.30 499.75,209.76 501.20,210.00 502.65,210.41 504.10,210.70 505.55,211.59 507.00,212.20 508.50,212.34 510.00,212.90 511.45,213.16 512.90,213.60 514.35,214.09 515.80,214.40 517.25,214.67 518.70,215.10 520.20,215.27 521.70,215.10 523.15,215.39 524.60,215.80 526.05,216.03 527.50,216.40 528.90,216.13 530.30,216.90 531.47,217.83 532.63,218.49 533.80,219.30 534.85,220.36 535.90,222.00 536.45,223.59 537.00,224.60 537.30,232.50 537.60,234.01 537.90,234.85 538.20,236.10 538.50,234.55 538.80,233.67 539.10,232.50 539.40,228.10" fill="none" stroke="#BD8CF5" stroke-width="1.15" stroke-linejoin="round" stroke-linecap="round"/>
<polyline points="64.30,205.30 65.10,206.49 65.90,208.00 66.63,209.12 67.37,210.51 68.10,211.80 68.83,212.67 69.57,213.84 70.30,214.90 71.90,215.25 73.50,215.60 75.15,215.72 76.80,216.20 78.50,216.00 79.40,215.22 80.30,214.17 81.20,213.50 82.30,212.49 83.40,211.41 84.50,210.20 85.30,209.25 86.10,208.12 86.90,207.35 87.70,206.40 88.53,205.25 89.35,204.38 90.17,202.95 91.00,202.00 91.73,201.04 92.47,200.00 93.20,198.70 94.30,197.99 95.40,197.10 96.30,196.08 97.20,194.80 97.93,193.58 98.67,192.79 99.40,191.50 100.45,190.45 101.50,189.40 102.60,188.70 104.00,188.33 105.40,187.60 106.75,186.97 108.10,186.00 109.20,184.52 110.30,183.30 110.85,182.19 111.40,181.02 111.95,179.45 112.50,178.40 113.03,176.87 113.57,175.57 114.10,174.00 114.63,172.40 115.17,171.23 115.70,169.60 116.12,168.28 116.55,167.28 116.98,165.78 117.40,164.70 118.10,163.43 118.80,162.33 119.50,160.90 121.20,159.30 123.40,158.70 125.00,157.10 126.10,155.63 127.20,154.40 128.30,153.46 129.40,152.70 129.93,151.27 130.47,149.76 131.00,148.40 131.95,146.81 132.90,145.60 133.80,144.12 134.70,142.90 135.65,141.36 136.60,140.10 138.40,138.70 139.10,137.72 139.80,136.40 141.20,134.60 142.10,133.72 143.00,132.70 144.90,131.80 146.70,133.20 148.50,131.80 149.45,131.06 150.40,130.00 151.30,128.92 152.20,128.10 153.15,127.06 154.10,125.80 155.00,124.50 155.90,123.50 156.85,122.61 157.80,121.70 159.60,121.50 161.40,122.10 163.30,121.70 164.20,122.65 165.10,123.50 165.40,124.68 165.70,126.12 166.00,127.20 166.33,128.46 166.67,129.70 167.00,130.90 168.30,131.80 168.85,130.70 169.40,129.14 169.95,128.25 170.50,126.80 171.23,125.65 171.97,124.36 172.70,123.20 174.90,123.90 175.62,122.92 176.35,121.61 177.08,120.80 177.80,119.50 178.77,118.33 179.73,117.04 180.70,115.90 181.80,116.71 182.90,117.30 185.10,116.60 186.55,116.58 188.00,116.60 189.50,115.72 191.00,115.10 192.40,116.60 192.90,117.90 193.40,118.82 193.90,120.20 194.63,121.56 195.37,122.57 196.10,123.90 196.83,125.16 197.57,126.49 198.30,127.50 199.03,128.77 199.77,130.03 200.50,131.20 201.20,132.58 201.90,134.10 202.65,135.00 203.40,136.30 204.80,135.60 205.18,134.14 205.55,132.91 205.93,131.82 206.30,130.50 206.80,129.24 207.30,128.04 207.80,126.80 208.53,125.99 209.27,124.72 210.00,123.90 211.10,123.04 212.20,122.40 212.93,121.26 213.67,119.81 214.40,118.80 214.97,117.43 215.55,116.39 216.12,115.12 216.70,114.10 217.45,112.59 218.20,111.20 218.90,109.64 219.60,108.30 220.35,106.88 221.10,105.40 222.60,104.30 224.00,104.60 225.50,105.70 226.90,107.20 227.65,108.49 228.40,109.70 228.95,111.08 229.50,112.70 230.05,114.20 230.60,115.60 231.10,116.89 231.60,118.20 232.15,116.95 232.70,116.17 233.25,114.80 233.80,113.80 234.50,112.56 235.20,111.60 235.93,112.64 236.67,114.06 237.40,115.20 238.50,116.45 239.60,117.40 240.33,116.31 241.07,114.96 241.80,113.80 242.55,112.26 243.30,110.90 243.77,111.90 244.23,113.36 244.70,114.50 245.80,115.62 246.90,116.70 247.90,117.37 248.90,118.22 249.90,118.90 250.62,119.98 251.35,121.27 252.08,122.29 252.80,123.30 253.53,124.40 254.27,125.86 255.00,126.90 255.55,125.64 256.10,124.76 256.65,123.64 257.20,122.60 257.64,121.32 258.08,120.06 258.52,119.17 258.96,117.68 259.40,116.70 259.95,115.62 260.50,114.68 261.05,113.26 261.60,112.30 262.70,111.08 263.80,110.10 264.53,108.94 265.27,107.70 266.00,106.50 266.47,105.19 266.93,103.89 267.40,102.40 268.13,101.30 268.87,100.39 269.60,99.50 270.33,100.39 271.07,101.25 271.80,102.40 272.24,103.74 272.68,104.87 273.12,106.03 273.56,106.92 274.00,108.30 274.50,109.90 275.00,111.33 275.50,112.70 276.90,114.50 278.40,116.00 278.87,114.75 279.33,113.63 279.80,112.30 280.53,111.31 281.27,110.26 282.00,109.40 282.73,108.28 283.47,107.36 284.20,106.50 284.93,105.18 285.67,104.17 286.40,103.10 287.13,102.00 287.87,100.78 288.60,99.50 290.80,100.20 291.35,99.24 291.90,98.08 292.45,96.81 293.00,95.80 293.55,94.55 294.10,93.22 294.65,92.09 295.20,90.70 295.75,89.61 296.30,88.41 296.85,87.46 297.40,86.30 298.50,85.39 299.60,84.10 300.47,83.05 301.33,82.39 302.20,81.30 302.93,80.14 303.67,79.27 304.40,78.40 305.13,77.33 305.87,76.56 306.60,75.50 308.00,75.50 308.75,76.78 309.50,77.70 309.80,79.12 310.10,80.27 310.40,81.81 310.70,82.91 311.00,84.30 311.23,85.41 311.47,86.90 311.70,88.00 311.93,89.24 312.17,90.45 312.40,91.60 312.65,93.01 312.90,94.02 313.15,95.39 313.40,96.55 313.65,97.83 313.90,98.90 314.40,100.07 314.90,101.39 315.40,102.50 316.50,103.28 317.60,104.00 319.70,104.00 320.45,102.47 321.20,101.10 321.75,99.88 322.30,98.95 322.85,97.63 323.40,96.70 324.15,97.96 324.90,98.90 325.18,100.16 325.46,101.51 325.74,102.94 326.02,104.67 326.30,105.90 327.05,107.29 327.80,108.80 328.55,110.11 329.30,111.70 329.58,112.69 329.86,113.88 330.14,115.32 330.42,116.47 330.70,117.60 331.45,119.13 332.20,120.50 333.30,121.29 334.40,121.90 335.10,122.83 335.80,124.10 336.55,125.64 337.30,127.10 338.80,125.60 339.27,124.31 339.73,123.26 340.20,121.90 340.57,120.75 340.95,119.51 341.32,117.90 341.70,116.80 342.80,115.85 343.90,114.60 345.00,114.07 346.10,113.20 346.83,112.38 347.57,111.04 348.30,110.20 348.65,108.71 349.00,107.29 349.35,105.89 349.70,104.70 350.14,103.68 350.58,102.50 351.02,101.27 351.46,100.19 351.90,98.90 352.45,97.85 353.00,96.61 353.55,95.44 354.10,94.50 355.20,93.24 356.30,92.30 357.40,91.30 358.50,90.10 360.00,91.60 360.35,92.93 360.70,94.43 361.05,95.92 361.40,97.40 361.90,98.68 362.40,100.24 362.90,101.80 363.65,103.16 364.40,104.70 365.45,104.09 366.50,103.30 367.60,102.15 368.70,101.10 370.20,100.30 371.70,101.80 372.43,102.69 373.17,103.92 373.90,104.70 375.00,105.70 376.10,106.80 377.20,107.90 378.70,106.40 379.80,105.84 380.90,105.00 381.42,106.32 381.95,107.36 382.48,108.79 383.00,110.10 383.55,111.35 384.10,112.76 384.65,113.86 385.20,115.20 386.70,116.70 387.43,115.82 388.17,114.78 388.90,113.80 390.00,112.94 391.10,112.30 391.83,113.41 392.57,114.07 393.30,115.20 394.40,116.43 395.50,117.40 396.23,116.30 396.97,115.27 397.70,114.50 399.90,113.80 401.00,114.78 402.10,116.00 402.54,117.26 402.98,118.51 403.42,119.28 403.86,120.64 404.30,121.80 405.70,123.70 406.43,124.90 407.17,126.22 407.90,127.30 408.62,128.27 409.35,129.50 410.07,130.54 410.80,131.70 411.53,130.60 412.27,129.14 413.00,128.00 415.20,128.80 415.75,130.08 416.30,130.91 416.85,131.99 417.40,133.20 417.90,134.75 418.40,136.13 418.90,137.60 419.37,138.88 419.83,140.52 420.30,141.90 420.80,142.97 421.30,144.48 421.80,145.60 424.00,146.30 426.20,147.10 427.30,146.08 428.40,144.90 429.50,143.91 430.60,142.70 432.80,141.90 433.90,143.05 435.00,144.10 435.70,145.54 436.40,147.10 437.15,148.16 437.90,149.30 438.63,148.26 439.37,147.46 440.10,146.30 440.65,145.03 441.20,144.26 441.75,142.81 442.30,141.90 443.40,141.08 444.50,140.50 445.60,141.51 446.70,142.70 448.90,142.70 450.50,143.40 451.35,144.81 452.20,145.90 452.75,146.98 453.30,148.00 453.85,149.28 454.40,150.20 455.13,151.33 455.87,152.65 456.60,153.90 457.15,155.01 457.70,156.20 458.25,157.30 458.80,158.30 459.24,159.52 459.68,160.56 460.12,161.71 460.56,162.80 461.00,164.10 461.73,165.34 462.45,166.36 463.17,167.50 463.90,168.50 464.87,169.33 465.83,170.41 466.80,171.40 467.77,172.51 468.73,173.43 469.70,174.40 471.90,175.10 473.40,175.30 474.90,175.80 476.35,176.53 477.80,177.30 479.25,178.20 480.70,178.80 482.15,179.05 483.60,179.50 485.10,179.73 486.60,180.20 488.05,180.52 489.50,181.00 490.95,181.78 492.40,182.40 493.85,183.29 495.30,183.90 496.30,184.50 497.30,185.23 498.30,186.10 499.75,186.70 501.20,187.50 502.65,188.18 504.10,189.00 505.55,189.36 507.00,189.70 508.50,190.31 510.00,191.20 511.45,190.78 512.90,190.50 514.35,190.38 515.80,190.50 517.25,191.04 518.70,191.20 520.20,191.29 521.70,191.20 523.15,191.39 524.60,191.90 526.05,192.48 527.50,192.70 528.75,192.54 530.00,192.70 531.30,193.90 533.10,194.80 535.00,195.70 536.80,197.10 538.70,197.60 539.60,198.00" fill="none" stroke="#4470CF" stroke-width="1.15" stroke-linejoin="round" stroke-linecap="round"/>
<polyline points="64.30,243.40 64.40,248.80 65.60,250.50 67.20,251.50 67.80,261.00 68.00,259.50 68.20,259.01 68.40,257.00 69.20,249.00 70.10,248.51 71.00,247.20 73.20,246.70 75.20,246.80 76.80,246.30 77.90,245.53 79.00,244.10 79.37,242.74 79.73,241.14 80.10,240.30 80.47,241.76 80.83,242.28 81.20,244.10 81.47,242.46 81.75,241.49 82.03,239.77 82.30,239.20 83.90,239.70 85.50,238.10 85.84,236.64 86.18,235.87 86.52,234.41 86.86,232.82 87.20,231.50 88.00,230.64 88.80,229.40 89.90,231.00 90.18,229.65 90.45,227.90 90.72,227.25 91.00,225.80 92.60,225.50 93.17,226.53 93.73,228.17 94.30,229.00 94.67,228.07 95.03,225.90 95.40,224.50 96.30,223.10 97.20,221.50 98.10,222.50 98.45,221.42 98.80,219.54 99.15,217.84 99.50,216.80 101.00,216.30 101.80,215.41 102.60,213.90 103.70,213.08 104.80,211.20 105.90,210.23 107.00,208.50 108.10,207.68 109.20,206.30 109.73,205.69 110.27,204.35 110.80,203.00 111.37,201.73 111.93,200.00 112.50,198.60 113.30,196.74 114.10,195.40 114.90,194.48 115.70,193.20 116.55,191.79 117.40,191.50 119.00,189.90 119.55,188.44 120.10,187.20 120.47,189.03 120.83,190.37 121.20,191.50 122.30,198.60 122.58,197.56 122.85,195.80 123.12,194.82 123.40,193.70 123.72,192.44 124.04,191.47 124.36,189.97 124.68,189.15 125.00,187.70 125.55,187.20 126.10,185.50 126.63,183.96 127.17,183.52 127.70,182.20 128.80,181.49 129.90,180.00 131.00,178.49 132.10,177.30 132.83,176.19 133.57,175.76 134.30,174.00 135.10,172.00 135.90,171.30 137.50,171.80 138.60,170.51 139.70,169.10 140.80,167.28 141.90,166.40 143.00,165.69 144.10,164.20 145.20,163.97 146.30,162.50 147.40,161.48 148.50,160.40 149.25,158.79 150.00,158.30 150.72,157.30 151.45,156.16 152.18,155.30 152.90,153.90 154.40,153.52 155.90,153.10 157.35,152.59 158.80,151.70 161.00,150.90 162.10,150.31 163.20,148.80 163.90,150.28 164.60,151.70 166.10,150.20 167.07,148.87 168.03,148.43 169.00,146.60 169.97,145.46 170.93,145.39 171.90,144.40 174.10,144.40 174.85,142.75 175.60,141.40 176.33,140.57 177.07,138.47 177.80,137.80 178.90,137.73 180.00,136.30 182.20,137.10 182.93,135.90 183.67,134.48 184.40,134.10 185.50,133.08 186.60,132.70 188.80,131.90 189.50,130.31 190.20,129.00 190.70,129.79 191.20,131.82 191.70,133.40 192.17,131.82 192.63,130.74 193.10,129.00 194.60,127.50 195.30,134.90 195.80,133.23 196.30,131.64 196.80,130.50 197.10,131.43 197.40,133.48 197.70,135.08 198.00,135.82 198.30,137.10 199.70,135.60 201.20,147.30 202.70,134.10 203.40,132.26 204.10,131.20 204.40,130.30 204.70,128.41 205.00,126.84 205.30,125.40 205.60,124.60 206.70,123.89 207.80,122.40 208.90,122.13 210.00,121.00 210.70,120.09 211.40,118.80 213.60,118.50 214.10,117.12 214.60,115.92 215.10,114.50 215.55,112.47 216.00,111.20 216.70,110.75 217.40,109.00 218.90,107.60 220.40,106.10 221.80,105.70 223.30,106.80 224.70,107.20 225.45,105.69 226.20,104.60 226.90,103.50 227.70,105.70 228.40,106.80 229.50,107.90 230.60,106.80 231.35,105.54 232.10,103.90 232.80,102.90 233.50,101.00 235.00,99.50 236.10,101.30 236.65,103.24 237.20,104.30 238.30,102.40 239.40,101.00 239.87,99.72 240.33,98.25 240.80,97.30 241.17,96.17 241.53,94.38 241.90,93.70 242.70,91.50 242.97,93.42 243.25,94.20 243.53,96.34 243.80,97.30 245.00,96.62 246.20,96.60 247.30,97.13 248.40,98.00 249.90,96.60 250.37,97.45 250.83,98.90 251.30,100.20 251.57,101.23 251.83,102.44 252.10,104.60 252.45,103.64 252.80,101.74 253.15,100.42 253.50,99.50 254.23,97.99 254.97,97.00 255.70,95.80 256.25,94.42 256.80,93.44 257.35,92.20 257.90,90.70 258.40,89.31 258.90,88.90 259.40,87.10 260.50,88.70 261.60,89.30 262.15,87.38 262.70,87.16 263.25,85.97 263.80,84.10 264.50,81.90 265.25,83.40 266.00,84.10 267.05,82.15 268.10,81.20 269.60,82.70 270.10,84.63 270.60,85.82 271.10,87.10 272.20,87.12 273.30,88.50 275.50,87.80 275.97,85.65 276.43,85.50 276.90,83.40 277.10,84.89 277.30,85.60 277.50,86.67 277.70,88.50 277.98,86.68 278.26,85.49 278.54,84.93 278.82,83.01 279.10,81.90 279.85,80.31 280.60,79.70 281.30,81.37 282.00,81.90 282.50,81.11 283.00,79.04 283.50,78.30 285.00,77.60 286.40,79.00 286.90,78.35 287.40,76.75 287.90,75.40 288.27,77.24 288.65,78.54 289.02,80.30 289.40,81.20 289.92,80.33 290.45,79.12 290.98,76.95 291.50,76.10 292.23,75.14 292.97,73.68 293.70,72.40 294.80,71.64 295.90,70.20 296.63,71.11 297.37,72.74 298.10,73.20 298.85,71.78 299.60,70.20 300.47,68.94 301.33,67.96 302.20,67.40 303.30,66.20 304.40,66.00 305.90,65.20 306.95,66.29 308.00,67.40 308.73,67.78 309.47,69.35 310.20,70.40 310.93,71.10 311.67,72.79 312.40,74.00 312.95,75.27 313.50,76.61 314.05,78.33 314.60,79.10 315.10,76.94 315.60,76.64 316.10,74.70 317.60,76.20 318.30,77.26 319.00,78.40 319.38,77.04 319.75,75.73 320.12,74.53 320.50,72.60 321.60,71.67 322.70,71.10 323.40,72.09 324.10,73.30 324.35,75.16 324.60,75.14 324.85,77.14 325.10,78.36 325.35,78.72 325.60,80.60 326.35,79.30 327.10,77.70 327.57,79.16 328.03,80.70 328.50,81.30 329.25,82.56 330.00,84.30 330.70,83.87 331.40,82.10 332.90,83.50 334.00,84.61 335.10,85.70 335.85,86.78 336.60,87.90 337.30,87.01 338.00,85.00 338.38,83.07 338.75,82.76 339.12,81.35 339.50,79.90 341.00,80.60 341.47,79.14 341.93,78.64 342.40,76.90 343.15,77.81 343.90,79.10 344.60,77.96 345.30,76.90 346.80,77.70 347.55,76.24 348.30,74.70 349.40,74.38 350.50,73.30 351.90,72.60 352.27,73.65 352.65,75.41 353.02,76.84 353.40,78.40 353.75,77.20 354.10,76.31 354.45,74.29 354.80,73.30 356.30,73.30 357.05,74.86 357.80,75.50 358.50,76.47 359.20,77.70 359.70,78.91 360.20,79.78 360.70,81.30 362.20,80.60 362.90,81.71 363.60,82.80 364.35,82.36 365.10,80.60 365.80,79.72 366.50,78.40 368.70,79.10 370.20,79.90 371.70,81.30 372.40,82.81 373.10,83.50 374.05,84.11 375.00,85.20 377.20,84.50 378.70,86.00 380.10,86.70 380.85,87.54 381.60,88.90 383.00,90.40 384.50,91.80 385.25,90.07 386.00,88.90 387.10,88.27 388.20,87.40 388.90,88.69 389.60,89.60 390.35,91.50 391.10,92.60 391.85,90.86 392.60,90.40 393.30,92.16 394.00,93.30 394.75,92.74 395.50,91.10 396.20,92.26 396.90,93.30 398.40,91.80 399.15,92.27 399.90,94.00 401.30,94.70 401.57,95.89 401.83,96.94 402.10,99.10 403.50,98.40 404.25,99.42 405.00,101.30 406.40,102.80 407.90,104.30 409.40,105.70 410.80,104.30 411.55,103.79 412.30,102.10 413.05,103.35 413.80,104.30 414.27,105.72 414.73,107.10 415.20,107.90 415.95,109.92 416.70,110.80 417.17,112.19 417.63,113.43 418.10,114.50 418.60,116.14 419.10,117.71 419.60,118.90 419.93,120.50 420.27,122.09 420.60,123.30 421.20,121.80 421.80,121.10 424.00,120.30 426.20,119.60 427.70,120.30 429.10,118.90 430.60,120.50 432.00,118.60 432.75,120.33 433.50,121.60 434.25,122.49 435.00,123.50 435.70,125.37 436.40,126.50 437.90,126.50 439.40,125.10 440.45,123.84 441.50,123.70 443.70,124.40 444.20,125.15 444.70,126.15 445.20,128.00 445.95,129.88 446.70,131.00 447.43,132.78 448.17,133.62 448.90,134.60 449.33,135.72 449.77,137.65 450.20,138.50 450.87,140.20 451.53,141.19 452.20,142.40 452.93,143.16 453.67,144.32 454.40,145.70 455.50,146.74 456.60,148.00 457.70,149.00 458.80,150.50 459.90,151.35 461.00,152.40 462.10,153.35 463.20,153.90 464.30,155.61 465.40,156.10 466.50,156.23 467.60,157.60 468.65,158.74 469.70,159.70 471.90,160.50 473.00,160.56 474.10,161.90 476.30,162.70 477.03,163.13 477.77,165.07 478.50,165.60 480.70,164.90 481.80,166.11 482.90,167.10 485.10,167.80 487.30,168.50 489.50,169.30 490.60,170.94 491.70,171.40 492.80,172.08 493.90,172.90 495.00,173.32 496.10,175.10 497.20,176.04 498.30,177.30 499.40,178.18 500.50,178.80 501.60,179.91 502.70,179.80 503.70,181.40 505.10,180.50 506.40,181.90 508.30,183.30 510.10,182.40 511.50,181.40 512.45,183.02 513.40,183.30 515.70,182.80 517.50,184.20 519.30,185.10 520.70,185.32 522.10,185.60 523.50,185.68 524.90,186.00 526.25,185.69 527.60,186.50 529.50,187.40 529.95,188.75 530.40,189.70 531.30,191.60 533.10,191.60 534.50,192.50 535.50,194.30 535.70,195.30 535.90,197.10 536.50,241.30 537.60,225.00 538.70,207.00" fill="none" stroke="#8ACF4C" stroke-width="1.15" stroke-linejoin="round" stroke-linecap="round"/>
</g>
<text x="34.2" y="285.30" font-family="'Liberation Serif', 'DejaVu Serif', serif" font-size="11.2" fill="#1a1a1a" stroke="#1a1a1a" stroke-width="0.15" textLength="14.9" lengthAdjust="spacingAndGlyphs">450</text>
<text x="34.2" y="257.65" font-family="'Liberation Serif', 'DejaVu Serif', serif" font-size="11.2" fill="#1a1a1a" stroke="#1a1a1a" stroke-width="0.15" textLength="14.9" lengthAdjust="spacingAndGlyphs">470</text>
<text x="34.2" y="230.01" font-family="'Liberation Serif', 'DejaVu Serif', serif" font-size="11.2" fill="#1a1a1a" stroke="#1a1a1a" stroke-width="0.15" textLength="14.9" lengthAdjust="spacingAndGlyphs">490</text>
<text x="34.2" y="202.36" font-family="'Liberation Serif', 'DejaVu Serif', serif" font-size="11.2" fill="#1a1a1a" stroke="#1a1a1a" stroke-width="0.15" textLength="14.9" lengthAdjust="spacingAndGlyphs">510</text>
<text x="34.2" y="174.71" font-family="'Liberation Serif', 'DejaVu Serif', serif" font-size="11.2" fill="#1a1a1a" stroke="#1a1a1a" stroke-width="0.15" textLength="14.9" lengthAdjust="spacingAndGlyphs">530</text>
<text x="34.2" y="147.06" font-family="'Liberation Serif', 'DejaVu Serif', serif" font-size="11.2" fill="#1a1a1a" stroke="#1a1a1a" stroke-width="0.15" textLength="14.9" lengthAdjust="spacingAndGlyphs">550</text>
<text x="34.2" y="119.42" font-family="'Liberation Serif', 'DejaVu Serif', serif" font-size="11.2" fill="#1a1a1a" stroke="#1a1a1a" stroke-width="0.15" textLength="14.9" lengthAdjust="spacingAndGlyphs">570</text>
<text x="34.2" y="91.77" font-family="'Liberation Serif', 'DejaVu Serif', serif" font-size="11.2" fill="#1a1a1a" stroke="#1a1a1a" stroke-width="0.15" textLength="14.9" lengthAdjust="spacingAndGlyphs">590</text>
<text x="34.2" y="64.12" font-family="'Liberation Serif', 'DejaVu Serif', serif" font-size="11.2" fill="#1a1a1a" stroke="#1a1a1a" stroke-width="0.15" textLength="14.9" lengthAdjust="spacingAndGlyphs">610</text>
<text transform="translate(62.60,289.0) rotate(-90)" font-family="'Liberation Serif', 'DejaVu Serif', serif" font-size="9.5" text-anchor="end" fill="#1a1a1a" stroke="#1a1a1a" stroke-width="0.15">9:00</text>
<text transform="translate(110.30,289.0) rotate(-90)" font-family="'Liberation Serif', 'DejaVu Serif', serif" font-size="9.5" text-anchor="end" fill="#1a1a1a" stroke="#1a1a1a" stroke-width="0.15">10:00</text>
<text transform="translate(158.00,289.0) rotate(-90)" font-family="'Liberation Serif', 'DejaVu Serif', serif" font-size="9.5" text-anchor="end" fill="#1a1a1a" stroke="#1a1a1a" stroke-width="0.15">11:00</text>
<text transform="translate(205.70,289.0) rotate(-90)" font-family="'Liberation Serif', 'DejaVu Serif', serif" font-size="9.5" text-anchor="end" fill="#1a1a1a" stroke="#1a1a1a" stroke-width="0.15">12:00</text>
<text transform="translate(253.40,289.0) rotate(-90)" font-family="'Liberation Serif', 'DejaVu Serif', serif" font-size="9.5" text-anchor="end" fill="#1a1a1a" stroke="#1a1a1a" stroke-width="0.15">13:00</text>
<text transform="translate(301.10,289.0) rotate(-90)" font-family="'Liberation Serif', 'DejaVu Serif', serif" font-size="9.5" text-anchor="end" fill="#1a1a1a" stroke="#1a1a1a" stroke-width="0.15">14:00</text>
<text transform="translate(348.80,289.0) rotate(-90)" font-family="'Liberation Serif', 'DejaVu Serif', serif" font-size="9.5" text-anchor="end" fill="#1a1a1a" stroke="#1a1a1a" stroke-width="0.15">15:00</text>
<text transform="translate(396.50,289.0) rotate(-90)" font-family="'Liberation Serif', 'DejaVu Serif', serif" font-size="9.5" text-anchor="end" fill="#1a1a1a" stroke="#1a1a1a" stroke-width="0.15">16:00</text>
<text transform="translate(444.20,289.0) rotate(-90)" font-family="'Liberation Serif', 'DejaVu Serif', serif" font-size="9.5" text-anchor="end" fill="#1a1a1a" stroke="#1a1a1a" stroke-width="0.15">17:00</text>
<text transform="translate(491.90,289.0) rotate(-90)" font-family="'Liberation Serif', 'DejaVu Serif', serif" font-size="9.5" text-anchor="end" fill="#1a1a1a" stroke="#1a1a1a" stroke-width="0.15">18:00</text>
<text transform="translate(539.60,289.0) rotate(-90)" font-family="'Liberation Serif', 'DejaVu Serif', serif" font-size="9.5" text-anchor="end" fill="#1a1a1a" stroke="#1a1a1a" stroke-width="0.15">19:00</text>
<text transform="translate(20.2,171) rotate(-90)" font-family="'Liberation Serif', 'DejaVu Serif', serif" font-size="14.5" fill="#111" stroke="#111" stroke-width="0.2">W/m<tspan font-size="9.5" dy="-5">2</tspan></text>
<text x="253.8" y="333" font-family="'Liberation Serif', 'DejaVu Serif', serif" font-size="14" fill="#111" stroke="#111" stroke-width="0.2" textLength="29.2" lengthAdjust="spacingAndGlyphs">Time</text>
<text x="118.6" y="15.1" font-family="'Liberation Serif', 'DejaVu Serif', serif" font-size="13.7" font-weight="bold" fill="#000" textLength="341.6" lengthAdjust="spacingAndGlyphs">Longwave radiation fluxes measured from six directions</text>
<text x="229.9" y="33.3" font-family="'Liberation Serif', 'DejaVu Serif', serif" font-size="13.7" font-weight="bold" fill="#000" textLength="75.8" lengthAdjust="spacingAndGlyphs">(February 29</text>
<text x="306.0" y="29.2" font-family="'Liberation Serif', 'DejaVu Serif', serif" font-size="9.6" textLength="7.6" lengthAdjust="spacingAndGlyphs" font-weight="bold" fill="#000">th</text>
<text x="314.0" y="33.3" font-family="'Liberation Serif', 'DejaVu Serif', serif" font-size="13.7" font-weight="bold" fill="#000" textLength="35.6" lengthAdjust="spacingAndGlyphs">, 2020)</text>
<rect x="108.7" y="353.8" width="11" height="3.3" fill="#4DBEF2"/>
<text x="121.3" y="359.1" font-family="'Liberation Serif', 'DejaVu Serif', serif" font-size="12" fill="#1a1a1a" stroke="#1a1a1a" stroke-width="0.12" textLength="30.2" lengthAdjust="spacingAndGlyphs">L East</text>
<rect x="160.1" y="353.8" width="11" height="3.3" fill="#EE8240"/>
<text x="172.1" y="359.1" font-family="'Liberation Serif', 'DejaVu Serif', serif" font-size="12" fill="#1a1a1a" stroke="#1a1a1a" stroke-width="0.12" textLength="39.2" lengthAdjust="spacingAndGlyphs">L South</text>
<rect x="220.6" y="353.8" width="11" height="3.3" fill="#888888"/>
<text x="232.1" y="359.1" font-family="'Liberation Serif', 'DejaVu Serif', serif" font-size="12" fill="#1a1a1a" stroke="#1a1a1a" stroke-width="0.12" textLength="35.6" lengthAdjust="spacingAndGlyphs">L West</text>
<rect x="277.2" y="353.8" width="11" height="3.3" fill="#BD8CF5"/>
<text x="289.2" y="359.1" font-family="'Liberation Serif', 'DejaVu Serif', serif" font-size="12" fill="#1a1a1a" stroke="#1a1a1a" stroke-width="0.12" textLength="40.3" lengthAdjust="spacingAndGlyphs">L North</text>
<rect x="338.7" y="353.8" width="11" height="3.3" fill="#4470CF"/>
<text x="350.2" y="359.1" font-family="'Liberation Serif', 'DejaVu Serif', serif" font-size="12" fill="#1a1a1a" stroke="#1a1a1a" stroke-width="0.12" textLength="24.2" lengthAdjust="spacingAndGlyphs">L Up</text>
<rect x="393.8" y="353.8" width="11" height="3.3" fill="#8ACF4C"/>
<text x="405.2" y="359.1" font-family="'Liberation Serif', 'DejaVu Serif', serif" font-size="12" fill="#1a1a1a" stroke="#1a1a1a" stroke-width="0.12" textLength="40.6" lengthAdjust="spacingAndGlyphs">L Down</text>
<text x="378.5" y="361.2" font-family="'DejaVu Sans', sans-serif" font-size="13.5" text-anchor="middle" fill="#1a1a1a" textLength="7" lengthAdjust="spacingAndGlyphs">↑</text>
<text x="451.5" y="361.2" font-family="'DejaVu Sans', sans-serif" font-size="13.5" text-anchor="middle" fill="#1a1a1a" textLength="7" lengthAdjust="spacingAndGlyphs">↓</text>
</svg></body></html>
